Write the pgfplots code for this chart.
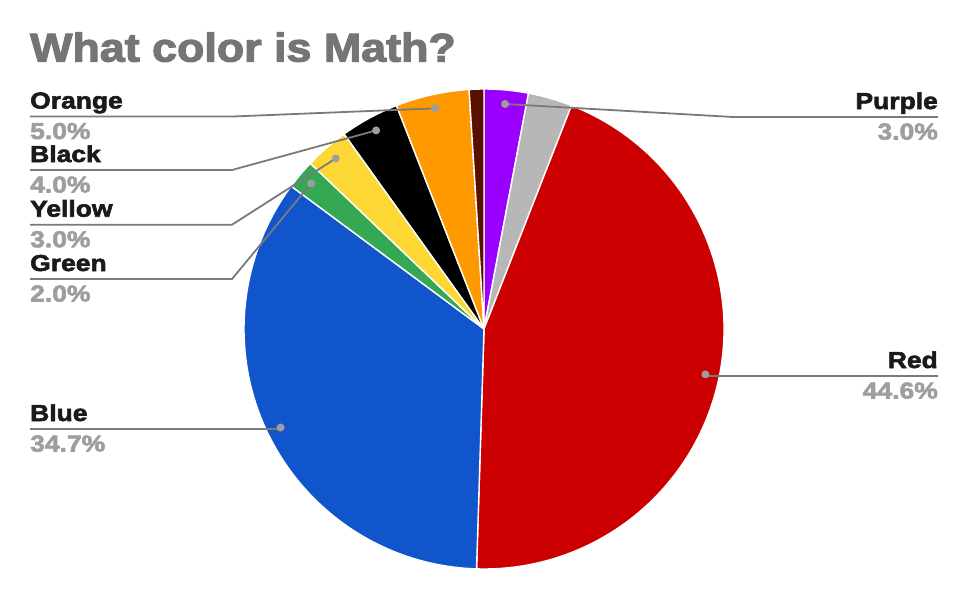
\documentclass[border=0pt]{standalone}
\usepackage{pgfplots}
\pgfplotsset{compat=1.18}
\usepackage{pgfplotstable}
\usepackage{fontspec}
\setmainfont{Liberation Sans}
\newfontfamily\heavy{Liberation Sans Bold}[FakeBold=2.6,FakeStretch=1.15]
\newfontfamily\titlefont{Liberation Sans Bold}[FakeBold=3,FakeStretch=1.12]

\definecolor{cred}{HTML}{CC0000}
\definecolor{cblue}{HTML}{1155CC}
\definecolor{cgreen}{HTML}{34A853}
\definecolor{cyellow}{HTML}{FDD835}
\definecolor{cblack}{HTML}{000000}
\definecolor{corange}{HTML}{FF9900}
\definecolor{cbrown}{HTML}{5B0F00}
\definecolor{cpurple}{HTML}{9900FF}
\definecolor{cgray}{HTML}{B7B7B7}
\definecolor{ctitle}{HTML}{757575}
\definecolor{cname}{HTML}{1A1A1A}
\definecolor{cpct}{HTML}{9E9E9E}
\definecolor{cline}{HTML}{7A7A7A}

% responses, clockwise from 12 o'clock
\pgfplotstableread{
name   count color
Purple 3     cpurple
Gray   3     cgray
Red    45    cred
Blue   35    cblue
Green  2     cgreen
Yellow 3     cyellow
Black  4     cblack
Orange 5     corange
Brown  1     cbrown
}\piedata

\def\cx{484}\def\cy{329}   % centre, image pixels
\def\R{240}                % radius
\def\Rdot{226}             % radius of the leader dots

% total
\gdef\pietotal{0}
\pgfplotstablegetrowsof{\piedata}\pgfmathtruncatemacro\lastrow{\pgfplotsretval-1}
\pgfplotsforeachungrouped \i in {0,...,\lastrow}{%
  \pgfplotstablegetelem{\i}{count}\of\piedata
  \pgfmathsetmacro\tmp{\pietotal+\pgfplotsretval}\xdef\pietotal{\tmp}}

% slices
\gdef\pieslices{}
\gdef\piecum{0}
\pgfplotsforeachungrouped \i in {0,...,\lastrow}{%
  \pgfplotstablegetelem{\i}{count}\of\piedata\let\c\pgfplotsretval
  \pgfplotstablegetelem{\i}{color}\of\piedata\let\col\pgfplotsretval
  \pgfplotstablegetelem{\i}{name}\of\piedata\let\nm\pgfplotsretval
  \pgfmathsetmacro\a{90-(\piecum/\pietotal)*360}
  \pgfmathsetmacro\b{90-((\piecum+\c)/\pietotal)*360}
  \pgfmathsetmacro\m{(\a+\b)/2}
  \xdef\pieslices{\unexpanded\expandafter{\pieslices}%
    \noexpand\filldraw[fill=\col,draw=white,line width=1.4pt,line join=round]
      (axis cs:\cx,\cy) -- ++(\a:\R pt) arc[start angle=\a,end angle=\b,radius=\R pt] -- cycle;
    \noexpand\path (axis cs:\cx,\cy) ++(\m:\Rdot pt) coordinate (d-\nm);}
  \pgfmathsetmacro\tmp{\piecum+\c}\xdef\piecum{\tmp}}

\tikzset{
  lbl/.style={inner sep=0pt,font=\heavy\fontsize{23}{23}\selectfont},
  leader/.style={cline,line width=1.8pt,line join=round},
}
% left label: name, percent, line y, knee x
\newcommand\leftlabel[4]{%
  \node[lbl,text=cname,anchor=base west] at (axis cs:30,#3-8) {#1};
  \node[lbl,text=cpct,anchor=base west] at (axis cs:30,#3+22.5) {#2};
  \draw[leader] (d-#1) -- (axis cs:#4,#3) -- (axis cs:30,#3);
  \fill[cpct] (d-#1) circle (4pt);}
\newcommand\rightlabel[4]{%
  \node[lbl,text=cname,anchor=base east] at (axis cs:938,#3-8) {#1};
  \node[lbl,text=cpct,anchor=base east] at (axis cs:938,#3+22.5) {#2};
  \draw[leader] (d-#1) -- (axis cs:#4,#3) -- (axis cs:938,#3);
  \fill[cpct] (d-#1) circle (4pt);}

\begin{document}
\begin{tikzpicture}
\begin{axis}[
    scale only axis,
    width=967pt, height=600pt,
    xmin=0, xmax=967, ymin=0, ymax=600,
    y dir=reverse,
    hide axis,
    clip=false,
]
\path (axis cs:0,0) rectangle (axis cs:967,600);
\pieslices
\node[inner sep=0pt,anchor=base west,text=ctitle,font=\titlefont\fontsize{40}{40}\selectfont]
  at (axis cs:30,61.5) {What color is Math?};
\leftlabel{Orange}{5.0\%}{116.5}{233}
\leftlabel{Black}{4.0\%}{170}{232}
\leftlabel{Yellow}{3.0\%}{224.7}{232}
\leftlabel{Green}{2.0\%}{279}{232}
\leftlabel{Blue}{34.7\%}{429}{279}
\rightlabel{Purple}{3.0\%}{117}{733}
\rightlabel{Red}{44.6\%}{376}{707}
\end{axis}
\end{tikzpicture}
\end{document}
